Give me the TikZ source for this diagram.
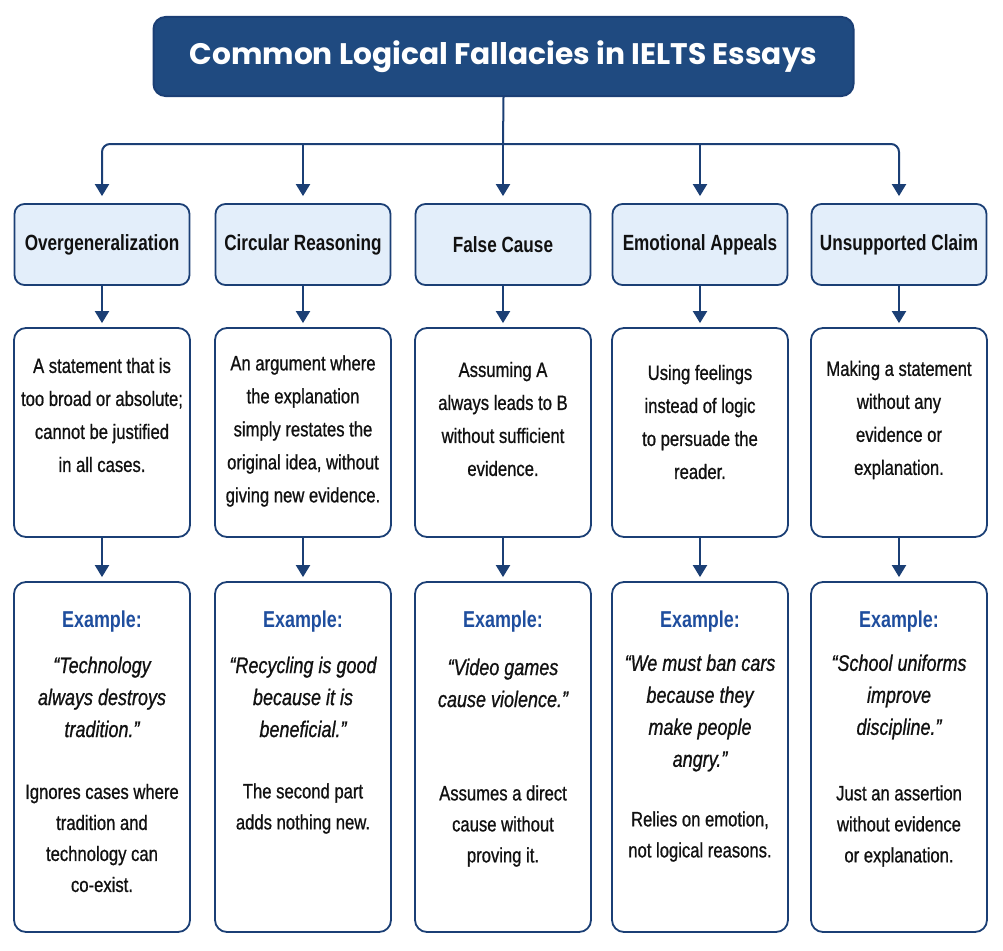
\documentclass[tikz,border=0pt]{standalone}
\usepackage{fontspec}
\setmainfont{Liberation Sans}[FakeStretch=0.8, FakeBold=0.8]
\newfontfamily\hdrfont{Liberation Sans}[FakeStretch=0.78]
\newfontfamily\titlefont{Poppins}
\usetikzlibrary{arrows.meta}
\definecolor{navy}{HTML}{1B3F75}
\definecolor{titlefill}{HTML}{1F4A80}
\definecolor{hdrfill}{HTML}{E3EEFA}
\definecolor{exblue}{HTML}{1F4E9E}
\definecolor{txt}{HTML}{111111}
\begin{document}
\begin{tikzpicture}[x=1pt,y=-1pt,
  titlebox/.style={draw=navy, line width=2pt, fill=titlefill, rounded corners=12pt,
    minimum width=700pt, minimum height=79pt, text=white,
    font=\titlefont\bfseries\fontsize{29.7}{36}\selectfont},
  hdr/.style={draw=navy, line width=1.8pt, fill=hdrfill, rounded corners=10pt,
    minimum width=175pt, minimum height=81pt, text=txt,
    font=\hdrfont\bfseries\fontsize{22}{26}\selectfont},
  descbox/.style={draw=navy, line width=1.8pt, fill=white, rounded corners=12pt,
    minimum width=176pt, minimum height=209pt},
  exbox/.style={draw=navy, line width=1.8pt, fill=white, rounded corners=12pt,
    minimum width=176pt, minimum height=350pt},
  desc/.style={align=center, inner sep=0pt, text=txt, font=\fontsize{20.8}{33}\selectfont},
  exlabel/.style={inner sep=0pt, text=exblue, font=\hdrfont\bfseries\fontsize{23}{26}\selectfont},
  quot/.style={align=center, inner sep=0pt, text=txt, font=\itshape\fontsize{22.5}{32}\selectfont},
  expl/.style={align=center, inner sep=0pt, text=txt, font=\fontsize{20.8}{31}\selectfont},
  conn/.style={draw=navy, line width=2pt, -{Triangle[width=14pt,length=12pt]}, shorten >=4pt},
]
\useasboundingbox (0,0) rectangle (1003,950);

% title
\node[titlebox] (title) at (503.5,56.5) {Common Logical Fallacies in IELTS Essays};

% headers
\node[hdr] (h1) at (102,244.5) {Overgeneralization};
\node[hdr] (h2) at (303,244.5) {Circular Reasoning};
\node[hdr] (h3) at (503,244.5) {False Cause};
\node[hdr] (h4) at (700,244.5) {Emotional Appeals};
\node[hdr] (h5) at (899,244.5) {Unsupported Claim};

% description boxes
\node[descbox] (m1) at (102,432.5) {};
\node[descbox] (m2) at (303,432.5) {};
\node[descbox] (m3) at (503,432.5) {};
\node[descbox] (m4) at (700,432.5) {};
\node[descbox] (m5) at (899,432.5) {};

\node[desc] (d1) at (102,415) {A statement that is\\too broad or absolute;\\cannot be justified\\in all cases.};
\node[desc] (d2) at (303,431) {An argument where\\the explanation\\simply restates the\\original idea, without\\giving new evidence.};
\node[desc] (d3) at (503,419) {Assuming A\\always leads to B\\without sufficient\\evidence.};
\node[desc] (d4) at (700,422) {Using feelings\\instead of logic\\to persuade the\\reader.};
\node[desc] (d5) at (899,420) {Making a statement\\without any\\evidence or\\explanation.};

% example boxes
\node[exbox] (b1) at (102,757) {};
\node[exbox] (b2) at (303,757) {};
\node[exbox] (b3) at (503,757) {};
\node[exbox] (b4) at (700,757) {};
\node[exbox] (b5) at (899,757) {};

\node[exlabel] (e1) at (102,622) {Example:};
\node[exlabel] (e2) at (303,622) {Example:};
\node[exlabel] (e3) at (503,622) {Example:};
\node[exlabel] (e4) at (700,622) {Example:};
\node[exlabel] (e5) at (899,622) {Example:};

\node[quot] (q1) at (102,697) {“Technology\\always destroys\\tradition.”};
\node[quot] (q2) at (303,697) {“Recycling is good\\because it is\\beneficial.”};
\node[quot] (q3) at (503,683) {“Video games\\cause violence.”};
\node[quot] (q4) at (700,713) {“We must ban cars\\because they\\make people\\angry.”};
\node[quot] (q5) at (899,697) {“School uniforms\\improve\\discipline.”};

\node[expl] (x1) at (102,838) {Ignores cases where\\tradition and\\technology can\\co-exist.};
\node[expl] (x2) at (303,808.5) {The second part\\adds nothing new.};
\node[expl] (x3) at (503,826) {Assumes a direct\\cause without\\proving it.};
\node[expl] (x4) at (700,836.5) {Relies on emotion,\\not logical reasons.};
\node[expl] (x5) at (899,826) {Just an assertion\\without evidence\\or explanation.};

% connectors
\coordinate (bus) at (503,144);
\draw[navy, line width=2pt] (title.south) -- (bus);
\draw[conn, shorten >=7pt, rounded corners=8pt] (bus) -| (h1.north);
\draw[conn, shorten >=7pt, rounded corners=8pt] (bus) -| (h5.north);
\foreach \i in {2,3,4}{
  \draw[conn, shorten >=7pt] (bus -| h\i.north) -- (h\i.north);
}
\foreach \i in {1,...,5}{
  \draw[conn] (h\i.south) -- (m\i.north);
  \draw[conn] (m\i.south) -- (b\i.north);
}
\end{tikzpicture}
\end{document}
